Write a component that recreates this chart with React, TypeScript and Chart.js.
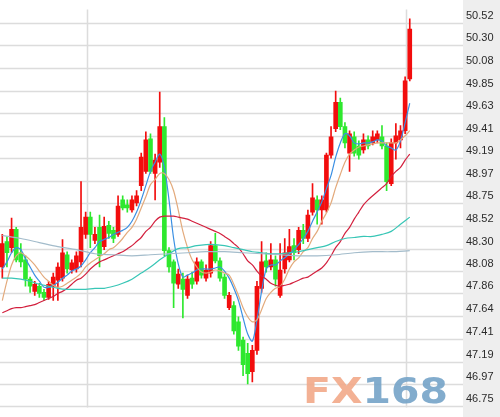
import React, { useEffect, useRef } from "react";
import { Chart, registerables } from "chart.js";

Chart.register(...registerables);

// ---- data ----
const OPEN = [
  48.12, 48.37, 48.31, 48.49, 48.26, 48.19, 48.0, 47.88, 47.93, 47.87,
  47.82, 47.93, 47.99, 48.01, 48.24, 48.09, 48.1, 48.17, 48.44, 48.61,
  48.38, 48.51, 48.32, 48.53, 48.48, 48.44, 48.78, 48.73, 48.68, 48.75,
  48.92, 49.06, 49.38, 49.04, 49.15, 49.5, 48.28, 48.17, 47.95, 48.0,
  47.84, 48.01, 47.98, 48.17, 48.01, 48.06, 48.33, 48.18, 48.02, 47.72,
  47.74, 47.58, 47.4, 47.27, 47.09, 47.3, 47.91, 48.18, 48.12, 48.19,
  47.84, 48.1, 48.19, 48.33, 48.29, 48.48, 48.4, 48.66, 48.78, 48.68,
  48.68, 49.22, 49.48, 49.74, 49.5, 49.24, 49.4, 49.31, 49.27, 49.37,
  49.34, 49.37, 49.4, 49.31, 48.94, 49.34, 49.37, 49.46, 49.97,
];
const HIGH = [
  48.44, 48.42, 48.6, 48.51, 48.35, 48.23, 48.02, 47.98, 47.96, 47.9,
  47.98, 48.06, 48.16, 48.39, 48.27, 48.19, 48.27, 48.96, 48.66, 48.66,
  48.51, 48.63, 48.61, 48.57, 48.51, 48.82, 48.82, 48.78, 48.82, 48.87,
  49.24, 49.45, 49.43, 49.23, 49.84, 49.59, 48.31, 48.19, 48.1, 48.06,
  48.04, 48.07, 48.21, 48.19, 48.14, 48.37, 48.45, 48.21, 48.05, 47.87,
  47.78, 47.63, 47.43, 47.37, 47.35, 47.98, 48.37, 48.26, 48.35, 48.23,
  48.35, 48.4, 48.49, 48.4, 48.51, 48.54, 48.68, 48.94, 48.82, 48.82,
  49.24, 49.5, 49.85, 49.78, 49.54, 49.46, 49.45, 49.36, 49.43, 49.41,
  49.46, 49.46, 49.51, 49.34, 49.38, 49.53, 49.51, 49.99, 50.56,
];
const LOW = [
  48.01, 48.12, 48.26, 48.17, 48.12, 47.93, 47.87, 47.84, 47.82, 47.79,
  47.8, 47.79, 47.79, 47.98, 48.06, 48.06, 48.07, 48.12, 48.4, 48.31,
  48.35, 48.12, 48.29, 48.4, 48.36, 48.42, 48.68, 48.66, 48.66, 48.72,
  48.87, 49.04, 49.04, 48.78, 49.1, 48.23, 48.07, 47.72, 47.91, 47.62,
  47.81, 47.91, 47.95, 48.01, 47.98, 48.02, 48.16, 47.98, 47.81, 47.7,
  47.46, 47.3, 47.05, 46.97, 46.99, 47.26, 47.87, 48.07, 48.09, 47.93,
  47.82, 48.06, 48.17, 48.19, 48.25, 48.35, 48.37, 48.63, 48.54, 48.54,
  48.66, 49.19, 49.45, 49.47, 49.29, 49.06, 49.21, 49.18, 49.24, 49.28,
  49.32, 49.34, 49.28, 48.87, 48.92, 49.18, 49.29, 49.43, 49.95,
];
const CLOSE = [
  48.35, 48.26, 48.49, 48.19, 48.17, 48.0, 47.93, 47.95, 47.86, 47.82,
  47.95, 48.02, 48.12, 48.26, 48.1, 48.16, 48.23, 48.51, 48.61, 48.44,
  48.44, 48.23, 48.52, 48.45, 48.4, 48.72, 48.7, 48.7, 48.78, 48.82,
  49.2, 49.37, 49.06, 49.17, 49.5, 48.28, 48.12, 47.96, 48.05, 47.9,
  48.0, 47.95, 48.17, 48.04, 48.09, 48.33, 48.18, 48.01, 47.84, 47.84,
  47.49, 47.34, 47.16, 47.07, 47.3, 47.93, 48.17, 48.12, 48.19, 48.0,
  48.09, 48.26, 48.32, 48.26, 48.48, 48.4, 48.63, 48.8, 48.68, 48.78,
  49.22, 49.4, 49.74, 49.5, 49.34, 49.43, 49.24, 49.22, 49.37, 49.31,
  49.4, 49.43, 49.31, 48.96, 49.34, 49.41, 49.46, 49.95, 50.46,
];

const MA_FAST = [
  48.1, 48.17, 48.26, 48.31, 48.29, 48.2, 48.12, 48.04, 47.98, 47.92,
  47.92, 47.94, 47.97, 48.01, 48.04, 48.08, 48.1, 48.13, 48.19, 48.26,
  48.31, 48.37, 48.39, 48.41, 48.44, 48.46, 48.48, 48.51, 48.57, 48.66,
  48.78, 48.92, 49.06, 49.15, 49.23, 49.1, 48.78, 48.4, 48.15, 48.02,
  48.04, 48.06, 48.09, 48.1, 48.1, 48.1, 48.11, 48.12, 48.08, 48.01,
  47.91, 47.79, 47.62, 47.46, 47.39, 47.6, 47.88, 48.1, 48.14, 48.14,
  48.18, 48.21, 48.25, 48.29, 48.34, 48.4, 48.47, 48.57, 48.66, 48.76,
  48.89, 49.02, 49.2, 49.34, 49.43, 49.41, 49.34, 49.33, 49.34, 49.34,
  49.35, 49.37, 49.36, 49.31, 49.29, 49.27, 49.36, 49.54, 49.73,
];
const MA_MID = [
  47.79, 47.98, 48.14, 48.23, 48.26, 48.23, 48.19, 48.14, 48.08, 48.02,
  47.98, 47.94, 47.92, 47.93, 47.96, 47.99, 48.02, 48.06, 48.12, 48.16,
  48.19, 48.22, 48.25, 48.29, 48.31, 48.35, 48.4, 48.46, 48.51, 48.59,
  48.7, 48.81, 48.93, 48.98, 49.04, 49.04, 48.98, 48.87, 48.68, 48.47,
  48.31, 48.19, 48.12, 48.07, 48.06, 48.07, 48.09, 48.08, 48.06, 48.04,
  47.95, 47.84, 47.72, 47.63, 47.58, 47.6, 47.7, 47.81, 47.87, 47.91,
  47.93, 48.0, 48.1, 48.17, 48.21, 48.27, 48.31, 48.4, 48.47, 48.57,
  48.65, 48.75, 48.9, 49.03, 49.15, 49.23, 49.27, 49.3, 49.31, 49.32,
  49.33, 49.34, 49.34, 49.34, 49.34, 49.34, 49.37, 49.41, 49.46,
];
const MA_SLOW = [
  47.67, 47.69, 47.71, 47.72, 47.72, 47.73, 47.74, 47.75, 47.77, 47.79,
  47.81, 47.83, 47.86, 47.88, 47.91, 47.95, 47.99, 48.01, 48.05, 48.1,
  48.14, 48.17, 48.19, 48.21, 48.23, 48.25, 48.27, 48.3, 48.33, 48.37,
  48.41, 48.47, 48.51, 48.57, 48.61, 48.62, 48.62, 48.62, 48.61, 48.6,
  48.59, 48.57, 48.55, 48.53, 48.51, 48.49, 48.47, 48.45, 48.42, 48.39,
  48.35, 48.31, 48.25, 48.18, 48.14, 48.08, 48.03, 48.0, 47.96, 47.94,
  47.93, 47.94, 47.95, 47.97, 47.99, 48.01, 48.02, 48.05, 48.08, 48.11,
  48.16, 48.23, 48.31, 48.37, 48.45, 48.51, 48.59, 48.66, 48.73, 48.78,
  48.82, 48.86, 48.9, 48.94, 49.01, 49.06, 49.1, 49.17, 49.23,
];
const MA_LONG = [
  48.01, null, 48.01, null, 48.0, null, 47.98, null, 47.95, null,
  47.93, null, 47.91, null, 47.9, null, 47.9, null, 47.9, null,
  47.91, null, 47.91, null, 47.93, null, 47.96, null, 48.0, null,
  48.06, null, 48.12, null, 48.19, null, 48.25, null, 48.3, null,
  48.31, null, 48.33, null, 48.34, null, 48.34, null, 48.33, null,
  48.31, null, 48.29, null, 48.27, null, 48.26, null, 48.25, null,
  48.25, null, 48.26, null, 48.27, null, 48.29, null, 48.31, null,
  48.33, null, 48.37, null, 48.4, null, 48.41, null, 48.42, null,
  48.42, null, 48.44, null, 48.47, null, 48.54, null, 48.61,
];
const MA_XLONG = [
  48.43, null, null, null, 48.4, null, null, null, 48.36, null,
  null, null, 48.32, null, null, null, 48.29, null, null, null,
  48.25, null, null, null, 48.24, null, null, null, 48.23, null,
  null, null, 48.24, null, null, null, 48.25, null, null, null,
  48.26, null, null, null, 48.27, null, null, null, 48.27, null,
  null, null, 48.26, null, null, null, 48.25, null, null, null,
  48.24, null, null, null, 48.23, null, null, null, 48.23, null,
  null, null, 48.24, null, null, null, 48.26, null, null, null,
  48.27, null, null, null, 48.27, null, null, null, 48.28,
];

const TICK_LABELS = [
  "50.52", "50.30", "50.08", "49.85", "49.63", "49.41", "49.19", "48.97", "48.75",
  "48.52", "48.30", "48.08", "47.86", "47.64", "47.41", "47.19", "46.97", "46.75",
];
const Y_MIN = 46.739;
const Y_MAX = 50.651;
const SLOTS = 100; // candle slots incl. empty space on the right
const SEPARATORS = [19, 88]; // slot boundaries with vertical lines

const UP = "#f20d0d";
const DOWN = "#2ee82e";
const GRID = "#dcdcdc";

const pad = (arr: (number | null)[]) =>
  arr.concat(Array(SLOTS - arr.length).fill(null));

export default function App() {
  const ref = useRef<HTMLCanvasElement | null>(null);

  useEffect(() => {
    const canvas = ref.current;
    if (!canvas) return;
    const labels = Array.from({ length: SLOTS }, (_, i) => String(i));
    const colors = CLOSE.map((c, i) => (c >= OPEN[i] ? UP : DOWN));
    const wicks = pad(LOW.map((l, i) => [l, HIGH[i]]) as any) as any;
    const bodies = pad(OPEN.map((o, i) => [o, CLOSE[i]]) as any) as any;

    const bgPlugin = {
      id: "bg",
      beforeDraw(chart: any) {
        const { ctx, chartArea } = chart;
        ctx.save();
        ctx.fillStyle = "#ffffff";
        ctx.fillRect(0, 0, chart.width, chart.height);
        ctx.fillStyle = "#eeeeee";
        ctx.fillRect(chartArea.right, 0, chart.width - chartArea.right, chart.height);
        ctx.restore();
      },
      beforeDatasetsDraw(chart: any) {
        const { ctx, chartArea, scales } = chart;
        const xs = scales.x;
        const ys = scales.y;
        const w = xs.width / SLOTS;
        ctx.save();
        ctx.strokeStyle = GRID;
        ctx.lineWidth = 1.5;
        // horizontal grid at the tick values
        ys.ticks.forEach((t: any) => {
          const py = Math.round(ys.getPixelForValue(t.value)) + 0.5;
          ctx.beginPath();
          ctx.moveTo(chartArea.left, py);
          ctx.lineTo(chartArea.right, py);
          ctx.stroke();
        });
        SEPARATORS.forEach((s) => {
          const px = Math.round(xs.left + s * w) - 0.5;
          ctx.beginPath();
          ctx.moveTo(px, chartArea.top);
          ctx.lineTo(px, chartArea.bottom);
          ctx.stroke();
        });
        ctx.restore();
      },
      afterDraw(chart: any) {
        const { ctx } = chart;
        ctx.save();
        ctx.globalAlpha = 0.9;
        ctx.font = "bold 36px 'DejaVu Sans', sans-serif";
        const w1 = ctx.measureText("FX").width;
        const w2 = ctx.measureText("168").width;
        const targetW = 145;
        const sx = targetW / (w1 + w2);
        ctx.translate(303, 403);
        ctx.scale(sx, 1);
        ctx.textBaseline = "alphabetic";
        ctx.fillStyle = "#f2a888";
        ctx.fillText("FX", 0, 0);
        ctx.fillStyle = "#74a3c8";
        ctx.fillText("168", w1, 0);
        ctx.restore();
      },
    };

    const lineDs = (data: (number | null)[], color: string) => ({
      type: "line" as const,
      data: pad(data),
      borderColor: color,
      borderWidth: 1.2,
      pointRadius: 0,
      tension: 0.3,
      spanGaps: true,
      order: 0,
    });

    const chart = new Chart(canvas, {
      type: "bar",
      data: {
        labels,
        datasets: [
          lineDs(MA_XLONG, "#a3bccb"),
          lineDs(MA_LONG, "#38c6b6"),
          lineDs(MA_SLOW, "#d3203e"),
          lineDs(MA_MID, "#e3aa7c"),
          lineDs(MA_FAST, "#3a8fe3"),
          {
            type: "bar",
            data: wicks,
            backgroundColor: pad(colors as any) as any,
            barThickness: 1,
            grouped: false,
            order: 2,
          } as any,
          {
            type: "bar",
            data: bodies,
            backgroundColor: pad(colors as any) as any,
            barThickness: 4,
            minBarLength: 1,
            grouped: false,
            order: 1,
          } as any,
        ],
      },
      options: {
        animation: false,
        responsive: false,
        maintainAspectRatio: false,
        layout: { padding: 0 },
        plugins: {
          legend: { display: false },
          tooltip: { enabled: false },
        },
        scales: {
          x: {
            display: false,
            offset: true,
          },
          y: {
            position: "right",
            min: Y_MIN,
            max: Y_MAX,
            afterBuildTicks: (s: any) => {
              s.ticks = TICK_LABELS.map((t) => ({ value: parseFloat(t) }));
            },
            afterFit: (s: any) => {
              s.width = 37;
            },
            ticks: {
              autoSkip: false,
              callback: (_v: any, i: number) => TICK_LABELS[i],
              font: { family: "'Liberation Sans', Arial, sans-serif", size: 11 },
              color: "#2a2a2a",
              padding: 3,
              labelOffset: -7,
            },
            grid: { display: false, drawTicks: false },
            border: { display: false },
          } as any,
        },
      },
      plugins: [bgPlugin],
    });
    return () => chart.destroy();
  }, []);

  return (
    <div style={{ position: "fixed", left: 0, top: 0, width: 500, height: 417 }}>
      <canvas ref={ref} width={500} height={417} style={{ display: "block" }} />
    </div>
  );
}
